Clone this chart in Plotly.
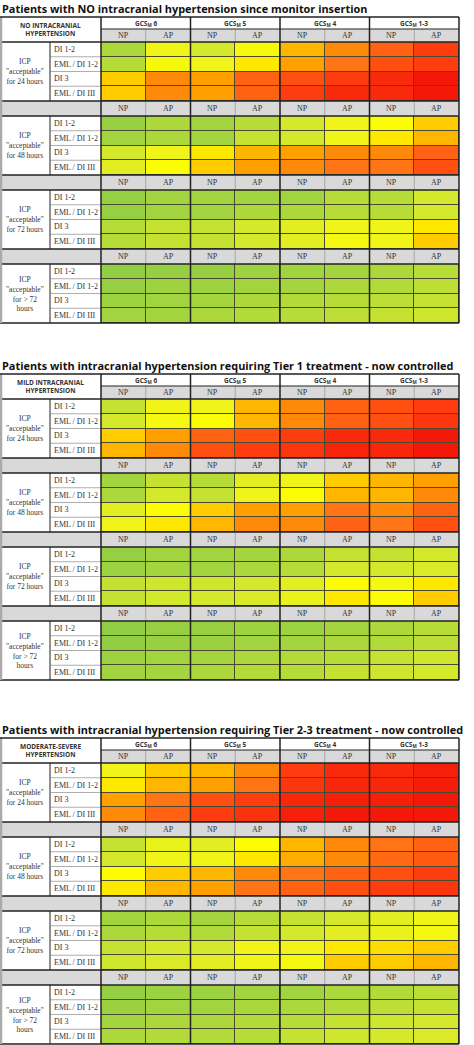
import plotly.graph_objects as go

# ---------------------------------------------------------------------------
# data
# ---------------------------------------------------------------------------
titles = [
    "Patients with NO intracranial hypertension since monitor insertion",
    "Patients with intracranial hypertension requiring Tier 1 treatment - now controlled",
    "Patients with intracranial hypertension requiring Tier 2-3 treatment - now controlled",
]
corner_labels = [
    "NO INTRACRANIAL<br>HYPERTENSION",
    "MILD INTRACRANIAL<br>HYPERTENSION",
    "MODERATE-SEVERE<br>HYPERTENSION",
]
gcs_groups = ["GCS<sub>M</sub> 6", "GCS<sub>M</sub> 5", "GCS<sub>M</sub> 4", "GCS<sub>M</sub> 1-3"]
sub_cols = ["NP", "AP"]
block_labels = [
    'ICP<br>"acceptable"<br>for 24 hours',
    'ICP<br>"acceptable"<br>for 48 hours',
    'ICP<br>"acceptable"<br>for 72 hours',
    'ICP<br>"acceptable"<br>for > 72<br>hours',
]
row_labels = ["DI 1-2", "EML / DI 1-2", "DI 3", "EML / DI III"]

# risk level 0 (green) .. 10 (red)
panel_no_ich = [
    [[1.5, 4, 3, 4.3, 6, 7, 8, 9],
     [2, 4.3, 4, 5, 6.5, 7.5, 8.5, 9],
     [5.5, 7, 6.5, 8, 8.5, 9, 9.5, 10],
     [5.5, 7, 6.5, 8, 9, 9.5, 9.5, 10]],
    [[0.5, 1.5, 1, 2, 3, 4, 4.5, 5.5],
     [1, 1.5, 1, 2.5, 3, 4, 5, 6],
     [3, 4, 5, 6, 6.5, 7, 7, 8],
     [3.5, 4.5, 5.5, 6.5, 7, 7.5, 7.5, 8.5]],
    [[0.5, 1, 1, 1, 1, 2, 2, 3],
     [0.5, 1, 1, 1.5, 1.5, 2, 2, 3],
     [2, 2.5, 2.5, 3, 3.5, 4, 4, 5],
     [2, 2.5, 2.5, 3, 3.5, 4.2, 4, 5.5]],
    [[0.3, 0.5, 0.5, 0.8, 1, 1.2, 1.5, 2],
     [0.5, 0.8, 0.8, 1, 1.2, 1.5, 1.8, 2.2],
     [0.8, 1, 1.2, 1.5, 1.8, 2, 2.2, 2.5],
     [1, 1.2, 1.5, 1.8, 2, 2.2, 2.5, 2.8]],
]
panel_tier1 = [
    [[2.5, 4, 4, 6, 7, 8, 8.5, 9],
     [3, 4.2, 4.5, 6, 7, 8, 8.5, 9.2],
     [5.5, 6.5, 8, 8.5, 9, 9.5, 9.5, 10],
     [6, 7, 8.5, 9, 9.2, 9.7, 9.6, 10]],
    [[1, 2.5, 2, 3.5, 4, 5.5, 6, 6.5],
     [1.5, 3, 2.5, 4, 4.5, 6, 6, 7],
     [3.5, 4.5, 5.5, 6.5, 6.5, 7.5, 7, 8],
     [4, 5, 6, 7, 7, 8, 7.5, 8.5]],
    [[0.5, 1, 1, 1.2, 1.5, 2.5, 2.5, 3],
     [0.8, 1.2, 1, 1.5, 2, 3, 3, 3.2],
     [2.5, 2.8, 2.8, 3, 3.5, 4.5, 4.2, 5],
     [2.5, 3, 3, 3.2, 3.8, 5, 4.5, 5.5]],
    [[0.2, 0.5, 0.5, 0.8, 0.8, 1.2, 1.5, 2],
     [0.3, 0.6, 0.7, 1, 1.2, 1.5, 1.8, 2.2],
     [0.8, 1, 1.2, 1.5, 1.8, 2, 2.5, 2.8],
     [1, 1.2, 1.5, 1.8, 2, 2.5, 2.8, 3]],
]
panel_tier23 = [
    [[4, 5.5, 6, 7, 9, 9.5, 9.5, 9.8],
     [5, 6, 6.5, 7.5, 9.2, 9.6, 9.6, 9.9],
     [6.5, 7.5, 8.5, 9, 9.6, 9.8, 9.8, 10],
     [7, 8, 9, 9.3, 9.8, 10, 10, 10]],
    [[2.5, 3.8, 3.5, 4.5, 6, 7, 7.5, 8],
     [3, 4, 4, 5, 6.2, 7, 7.8, 8.2],
     [4.5, 5.5, 6, 7, 7.5, 8, 8.5, 9],
     [5, 6, 6.5, 7.5, 8, 8.5, 9, 9.2]],
    [[1, 1.5, 1.2, 2, 2.5, 3, 3.5, 4],
     [1.5, 2, 1.8, 2.5, 3, 3.5, 3.8, 4.2],
     [2.5, 3, 3, 4, 4, 5, 5.2, 5.5],
     [2.8, 3.2, 3.5, 4, 4.2, 5.5, 5.5, 6]],
    [[0.5, 0.8, 0.8, 1, 1, 1.5, 1.8, 2.2],
     [0.7, 1, 1, 1.3, 1.5, 1.8, 2.2, 2.5],
     [1.2, 1.5, 1.5, 1.8, 2, 2.5, 2.8, 3],
     [1.5, 1.8, 1.8, 2, 2.5, 2.8, 3, 3.2]],
]
panels = [panel_no_ich, panel_tier1, panel_tier23]

risk_scale = [
    [0.0, "#8ccb46"], [0.2, "#b6dc38"], [0.3, "#d4e82c"], [0.4, "#f0f418"],
    [0.46, "#ffff00"], [0.55, "#ffcc00"], [0.65, "#ffa000"], [0.75, "#ff7414"],
    [0.88, "#ff4410"], [1.0, "#f41808"],
]

# ---------------------------------------------------------------------------
# geometry (pixels of the 474 x 1045 page)
# ---------------------------------------------------------------------------
W, H = 474, 1045
panel_tops = [17, 374, 738]
X_LAB, X_SUB, X_DATA, X_END = 0, 50, 101, 459
col_w = (X_END - X_DATA) / 8
HDR1, HDR2 = 12, 13
row_h = 14.75
gap_h = 15
block_h = 4 * row_h
GRAY = "#d9d9d9"
LINE = "#222222"
SERIF = "Liberation Serif"
SANS = "Open Sans"

fig = go.Figure()
shapes = []
annots = []


def rect(x0, y0, x1, y1, fill, layer="below", lw=0, lc=LINE):
    shapes.append(dict(type="rect", x0=x0, y0=y0, x1=x1, y1=y1, fillcolor=fill,
                       line=dict(width=lw, color=lc), layer=layer))


def line(x0, y0, x1, y1, w=1, c=LINE):
    shapes.append(dict(type="line", x0=x0, y0=y0, x1=x1, y1=y1,
                       line=dict(width=w, color=c), layer="above"))


def text(x, y, s, size=8, font=SERIF, xanchor="center", bold=False, color="#333333"):
    if bold:
        s = "<b>" + s + "</b>"
    annots.append(dict(x=x, y=y, text=s, showarrow=False, xanchor=xanchor,
                       yanchor="middle", font=dict(family=font, size=size, color=color)))


def np_ap_row(y0, h):
    rect(X_DATA, y0, X_END, y0 + h, GRAY)
    for c in range(8):
        text(X_DATA + (c + 0.5) * col_w, y0 + h / 2, sub_cols[c % 2], size=8)
        if c % 2:
            line(X_DATA + c * col_w, y0, X_DATA + c * col_w, y0 + h, w=0.6, c="#888888")


for p, (T, blocks) in enumerate(zip(panel_tops, panels)):
    table_h = HDR1 + HDR2 + 4 * block_h + 3 * gap_h
    annots.append(dict(x=0, y=T - 9, text="<b>" + titles[p] + "</b>", showarrow=False,
                       xanchor="left", yanchor="middle",
                       font=dict(family=SANS, size=10.9, color="#111111")))

    # header
    rect(X_LAB, T, X_DATA, T + HDR1 + HDR2, "white")
    text((X_LAB + X_DATA) / 2, T + (HDR1 + HDR2) / 2, corner_labels[p], size=6.5, font=SANS, bold=True)
    for g, name in enumerate(gcs_groups):
        text(X_DATA + (2 * g + 1) * col_w, T + HDR1 / 2, name, size=6.5, font=SANS, bold=True)
    np_ap_row(T + HDR1, HDR2)
    line(X_DATA, T + HDR1, X_END, T + HDR1, w=1)

    for b, z in enumerate(blocks):
        y0 = T + HDR1 + HDR2 + b * (block_h + gap_h)
        if b > 0:
            rect(X_LAB, y0 - gap_h, X_END, y0, GRAY)
            np_ap_row(y0 - gap_h, gap_h)
            line(X_LAB, y0 - gap_h, X_END, y0 - gap_h, w=1.5)
        line(X_LAB, y0, X_END, y0, w=1.5)
        rect(X_DATA, y0, X_END, y0 + block_h, "#4a4a30")
        fig.add_trace(go.Heatmap(
            z=z, x0=X_DATA + col_w / 2, dx=col_w, y0=y0 + row_h / 2, dy=row_h,
            colorscale=risk_scale, zmin=0, zmax=10, showscale=False,
            xgap=1, ygap=1, hoverinfo="skip",
        ))
        # row labels
        text((X_LAB + X_SUB) / 2, y0 + block_h / 2, block_labels[b], size=7.5)
        line(X_SUB, y0, X_SUB, y0 + block_h, w=1)
        for r, lab in enumerate(row_labels):
            text(X_SUB + 2, y0 + (r + 0.5) * row_h, lab, size=8, xanchor="left")
            if r:
                line(X_SUB, y0 + r * row_h, X_DATA, y0 + r * row_h, w=0.6, c="#777777")

    # frame and group separators
    line(X_LAB, T + table_h, X_END, T + table_h, w=1.5)
    line(X_LAB + 1, T, X_LAB + 1, T + table_h, w=2.5, c="#aaaaaa")
    line(X_LAB, T, X_END, T, w=1.5)
    for g in range(5):
        xg = X_DATA + 2 * g * col_w
        line(xg, T, xg, T + table_h, w=1.5)

fig.update_layout(
    width=W, height=H,
    margin=dict(l=0, r=0, t=0, b=0),
    paper_bgcolor="white", plot_bgcolor="white",
    xaxis=dict(range=[0, W], visible=False, fixedrange=True),
    yaxis=dict(range=[H, 0], visible=False, fixedrange=True),
    shapes=shapes, annotations=annots,
    showlegend=False,
)
fig.write_html(
    "out.html",
    config=dict(displayModeBar=False),
    post_script="document.body.style.margin='0';document.body.style.overflow='hidden';",
)
